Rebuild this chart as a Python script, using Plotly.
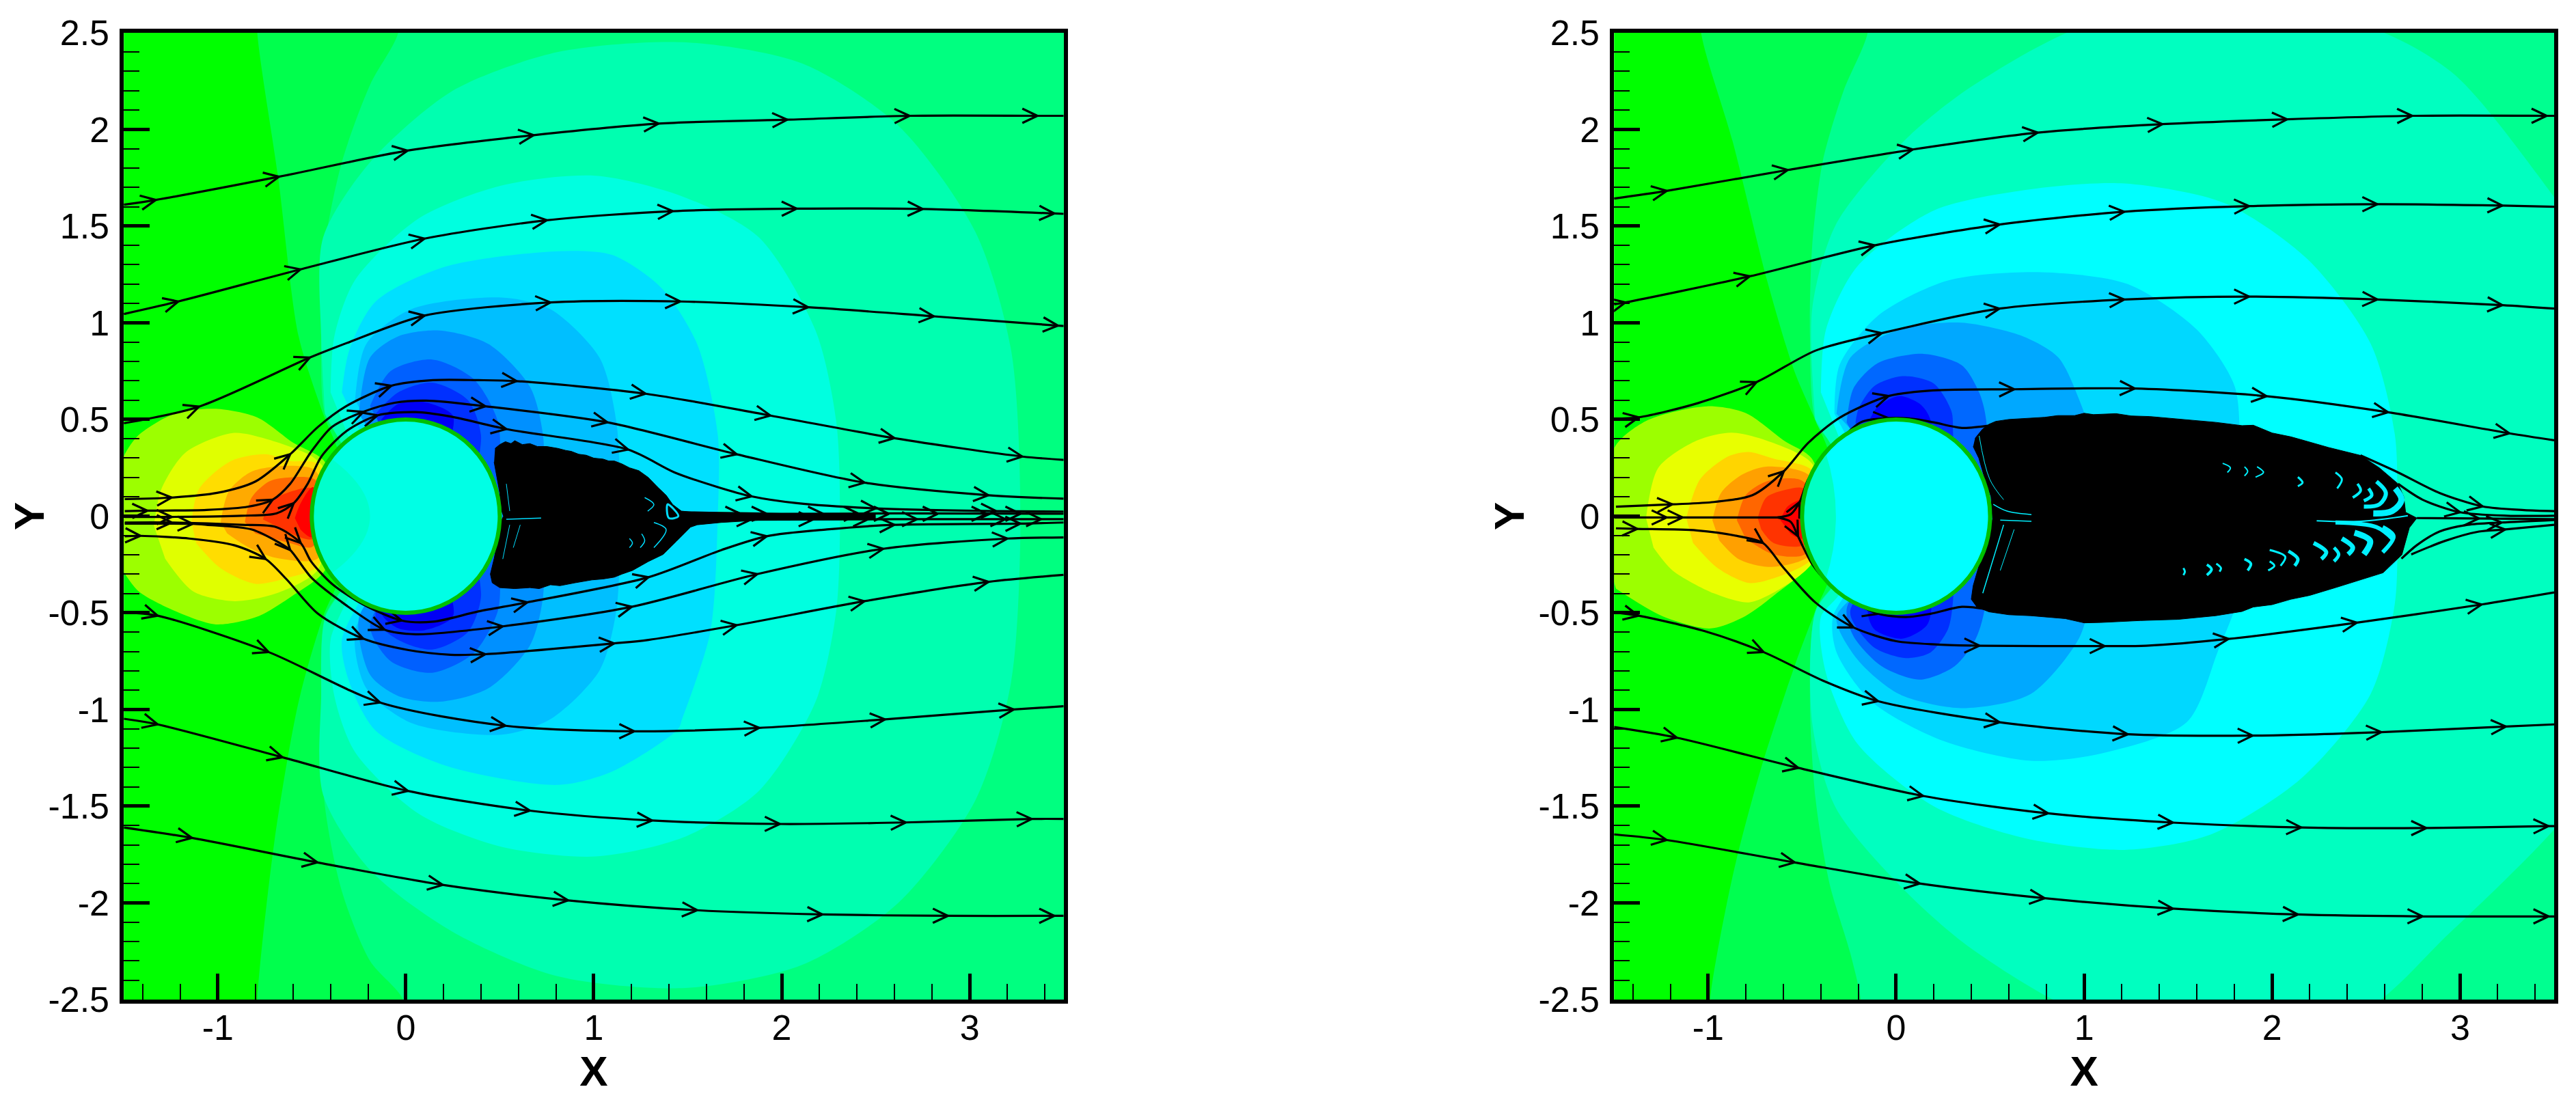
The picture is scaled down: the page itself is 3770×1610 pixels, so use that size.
"""Two cylinder-wake panels: filled contour bands, streamlines with open arrowheads."""
import plotly.graph_objects as go

W, H = 3770, 1610
PAGE_MARGIN = 8   # browser default body margin
L_DOMAIN = (181.2, 1556.7)
R_DOMAIN = (2362.2, 3738)
Y_DOMAIN = (47.8, 1463)

X_TICKS = [-1, 0, 1, 2, 3]
X_LABELS = ["-1", "0", "1", "2", "3"]
Y_TICKS = [-2.5, -2, -1.5, -1, -0.5, 0, 0.5, 1, 1.5, 2, 2.5]
Y_LABELS = ["-2.5", "-2", "-1.5", "-1", "-0.5", "0", "0.5", "1", "1.5", "2", "2.5"]
X_MINOR = [-1.4, -1.2, -0.8, -0.6, -0.4, -0.2, 0.2, 0.4, 0.6, 0.8, 1.2, 1.4, 1.6, 1.8,
           2.2, 2.4, 2.6, 2.8, 3.2, 3.4]
Y_MINOR = [-2.4, -2.3, -2.2, -2.1, -1.9, -1.8, -1.7, -1.6, -1.4, -1.3, -1.2, -1.1,
           -0.9, -0.8, -0.7, -0.6, -0.4, -0.3, -0.2, -0.1, 0.1, 0.2, 0.3, 0.4,
           0.6, 0.7, 0.8, 0.9, 1.1, 1.2, 1.3, 1.4, 1.6, 1.7, 1.8, 1.9, 2.1, 2.2, 2.3, 2.4]

# ---------- left panel: contour bands (painted in this order over plain green)
L_A = [(-0.79, 2.7), (-0.79, 2.5), (-0.68, 1.76), (-0.57, 0.93), (-0.44, 0.53), (-0.35, 0.3), (-0.35, -0.3),
       (-0.44, -0.52), (-0.57, -0.96), (-0.70, -1.69), (-0.79, -2.5), (-0.79, -2.7), (3.8, -2.7), (3.8, 2.7)]
L_B = [(-0.04, 2.7), (-0.04, 2.5), (-0.19, 2.23), (-0.34, 1.83), (-0.43, 1.40), (-0.45, 0.93), (-0.43, 0.53),
       (-0.3, 0.3), (-0.3, -0.3), (-0.43, -0.52), (-0.45, -0.96), (-0.43, -1.5), (-0.34, -1.94), (-0.19, -2.3),
       (-0.015, -2.5), (-0.015, -2.7), (3.8, -2.7), (3.8, 2.7)]
L_C = [(-0.43, 0.53), (-0.45, 0.93), (-0.44, 1.44), (-0.19, 1.83), (0.25, 2.2), (0.81, 2.40), (1.49, 2.45),
       (2.11, 2.34), (2.62, 2.02), (3.03, 1.47), (3.22, 0.86), (3.27, 0), (3.22, -0.86), (3.03, -1.47),
       (2.62, -2.0), (2.11, -2.32), (1.49, -2.44), (0.81, -2.38), (0.25, -2.15), (-0.19, -1.83), (-0.44, -1.44),
       (-0.45, -0.93), (-0.43, -0.53), (-0.3, -0.3), (-0.3, 0.3)]
L_D = [(-0.40, 0.64), (-0.38, 0.93), (-0.27, 1.22), (0.07, 1.54), (0.51, 1.71), (1.01, 1.76), (1.48, 1.65),
       (1.88, 1.44), (2.18, 0.96), (2.29, 0.49), (2.31, 0), (2.29, -0.49), (2.18, -0.96), (1.88, -1.42),
       (1.48, -1.66), (1.01, -1.76), (0.51, -1.71), (0.07, -1.54), (-0.27, -1.22), (-0.38, -0.93),
       (-0.40, -0.64), (-0.3, -0.4), (-0.2, 0), (-0.3, 0.4)]
L_E = [(-0.34, 0.64), (-0.30, 0.86), (-0.16, 1.11), (0.21, 1.29), (0.81, 1.37), (1.10, 1.35), (1.36, 1.18),
       (1.55, 0.89), (1.66, 0.42), (1.66, 0), (1.62, -0.6), (1.47, -1.05), (1.45, -1.1), (1.10, -1.32),
       (0.81, -1.39), (0.21, -1.29), (-0.16, -1.11), (-0.30, -0.86), (-0.34, -0.64), (-0.2, -0.35), (-0.1, 0),
       (-0.2, 0.35)]
L_F = [(-0.27, 0.60), (-0.21, 0.89), (0.03, 1.07), (0.51, 1.13), (0.77, 1.07), (1.03, 0.82), (1.12, 0.49),
       (1.14, 0), (1.12, -0.49), (1.03, -0.8), (0.77, -1.05), (0.51, -1.13), (0.03, -1.07), (-0.21, -0.89),
       (-0.27, -0.60), (-0.1, -0.3), (0, 0), (-0.1, 0.3)]
L_G = [(-0.25, 0.53), (-0.19, 0.82), (-0.04, 0.93), (0.18, 0.96), (0.44, 0.89), (0.66, 0.67), (0.73, 0.42),
       (0.73, 0), (0.73, -0.42), (0.66, -0.67), (0.44, -0.89), (0.18, -0.96), (-0.04, -0.93), (-0.19, -0.82),
       (-0.25, -0.53), (-0.1, -0.3), (0, 0), (-0.1, 0.3)]
L_H = [(-0.19, 0.57), (-0.08, 0.75), (0.14, 0.81), (0.36, 0.71), (0.49, 0.49), (0.5, 0.2), (0.5, -0.2),
       (0.49, -0.49), (0.36, -0.71), (0.14, -0.81), (-0.08, -0.75), (-0.19, -0.57), (-0.05, -0.3), (0, 0), (-0.05, 0.3)]
L_I = [(-0.16, 0.53), (-0.04, 0.64), (0.14, 0.69), (0.33, 0.60), (0.40, 0.42), (0.35, 0.1), (0.35, -0.1),
       (0.40, -0.42), (0.33, -0.60), (0.14, -0.69), (-0.04, -0.64), (-0.16, -0.53), (-0.05, -0.2), (-0.05, 0.2)]
L_J = [(-0.13, 0.5), (-0.04, 0.58), (0.1, 0.59), (0.25, 0.52), (0.22, 0.3), (0.22, -0.3), (0.25, -0.52),
       (0.1, -0.59), (-0.04, -0.58), (-0.13, -0.5), (-0.05, -0.2), (-0.05, 0.2)]
L_P1 = [(-1.6, 0), (-1.5, 0.31), (-1.42, 0.42), (-1.23, 0.53), (-1.01, 0.555), (-0.79, 0.51), (-0.6, 0.38),
        (-0.43, 0.28), (-0.38, 0), (-0.43, -0.28), (-0.6, -0.41), (-0.79, -0.52), (-1.01, -0.56), (-1.23, -0.49),
        (-1.42, -0.39), (-1.5, -0.29)]
L_P2 = [(-1.34, -0.05), (-1.30, 0.14), (-1.17, 0.33), (-0.92, 0.43), (-0.745, 0.40), (-0.50, 0.31), (-0.43, 0.24),
        (-0.4, 0), (-0.47, -0.28), (-0.69, -0.40), (-0.91, -0.44), (-1.13, -0.39), (-1.28, -0.22)]
L_P3 = [(-1.14, -0.03), (-1.10, 0.14), (-0.93, 0.285), (-0.745, 0.32), (-0.615, 0.285), (-0.47, 0.27), (-0.4, 0),
        (-0.47, -0.26), (-0.615, -0.316), (-0.80, -0.35), (-0.985, -0.27), (-1.115, -0.14)]
L_P4 = [(-0.985, -0.03), (-0.94, 0.13), (-0.82, 0.23), (-0.63, 0.26), (-0.485, 0.238), (-0.4, 0), (-0.47, -0.22),
        (-0.69, -0.216), (-0.84, -0.16), (-0.95, -0.09)]
L_P5 = [(-0.856, -0.03), (-0.82, 0.096), (-0.726, 0.18), (-0.615, 0.2), (-0.485, 0.19), (-0.4, 0), (-0.5, -0.16),
        (-0.615, -0.14), (-0.8, -0.09)]
L_P6 = [(-0.76, -0.017), (-0.71, 0.08), (-0.6, 0.13), (-0.5, 0.144), (-0.4, 0), (-0.5, -0.12), (-0.65, -0.07)]
L_P7 = [(-0.59, -0.01), (-0.56, 0.065), (-0.494, 0.15), (-0.4, 0), (-0.5, -0.11), (-0.56, -0.07)]
L_BANDS = [L_A, L_B, L_C, L_D, L_E, L_F, L_G, L_H, L_I, L_J, L_P1, L_P2, L_P3, L_P4, L_P5, L_P6, L_P7]
L_COLORS = ["#00FF4D", "#00FF80", "#00FFB0", "#00FFE0", "#00E0FF", "#00BFFF", "#0090FF", "#0060FF", "#0030FF",
            "#0000F5", "#9CFF00", "#E0FF00", "#FFDD00", "#FFAA00", "#FF6A00", "#FF3300", "#FF0000"]

# left panel: streamlines and the point indexes that carry an arrowhead
L_S1 = [(-1.5, 1.61), (-1.33, 1.635), (-0.675, 1.755), (0.01, 1.89), (0.68, 1.97), (1.345, 2.03), (2.03, 2.05),
        (2.68, 2.07), (3.36, 2.07), (3.5, 2.07)]
L_S2 = [(-1.5, 1.045), (-1.21, 1.11), (-0.56, 1.276), (0.10, 1.435), (0.75, 1.53), (1.42, 1.577), (2.08, 1.59),
        (2.75, 1.588), (3.45, 1.565), (3.5, 1.563)]
L_S3 = [(-1.5, 0.48), (-1.10, 0.566), (-0.51, 0.82), (-0.3, 0.90), (0.1, 1.037), (0.77, 1.105), (1.46, 1.11),
        (2.14, 1.08), (2.81, 1.033), (3.47, 0.985), (3.5, 0.983)]
L_S4 = [(-1.495, 0.088), (-1.245, 0.096), (-1.004, 0.12), (-0.8, 0.179), (-0.615, 0.32), (-0.466, 0.462),
        (-0.318, 0.568), (-0.077, 0.674), (0.145, 0.703), (0.386, 0.703), (0.59, 0.698), (1.276, 0.633),
        (1.94, 0.52), (2.6, 0.403), (3.28, 0.308), (3.5, 0.291)]
L_S5 = [(-1.495, 0.026), (-1.375, 0.028), (-1.06, 0.032), (-0.837, 0.049), (-0.708, 0.085), (-0.615, 0.167),
        (-0.504, 0.332), (-0.392, 0.462), (-0.226, 0.539), (-0.059, 0.586), (0.108, 0.597), (0.423, 0.568),
        (1.072, 0.485), (1.76, 0.32), (2.44, 0.173), (3.1, 0.108), (3.5, 0.09)]
L_S6 = [(-1.495, -0.004), (-1.245, -0.004), (-0.874, 0.002), (-0.689, 0.014), (-0.596, 0.067), (-0.522, 0.167),
        (-0.448, 0.309), (-0.318, 0.438), (-0.151, 0.521), (0.053, 0.538), (0.238, 0.515), (0.535, 0.45),
        (1.183, 0.344), (1.43, 0.226), (1.66, 0.15), (1.84, 0.102), (2.08, 0.067), (2.5, 0.04), (3.14, 0.026),
        (3.5, 0.023)]
L_S7 = [(-1.495, -0.033), (-1.245, -0.033), (-0.874, -0.045), (-0.689, -0.057), (-0.559, -0.139), (-0.504, -0.234),
        (-0.392, -0.351), (-0.226, -0.457), (-0.022, -0.54), (0.145, -0.546), (0.386, -0.493), (0.646, -0.446),
        (1.291, -0.316), (1.68, -0.175), (1.92, -0.104), (2.24, -0.069), (2.6, -0.045), (3.27, -0.039), (3.5, -0.033)]
L_S8 = [(-1.495, -0.039), (-1.134, -0.04), (-1.06, -0.045), (-0.819, -0.069), (-0.67, -0.139), (-0.615, -0.175),
        (-0.504, -0.316), (-0.355, -0.434), (-0.114, -0.587), (0.053, -0.611), (0.516, -0.57), (1.202, -0.469),
        (1.87, -0.30), (2.54, -0.169), (3.2, -0.116), (3.5, -0.11)]
L_S9 = [(-1.495, -0.104), (-1.412, -0.102), (-1.152, -0.116), (-0.911, -0.151), (-0.745, -0.222), (-0.633, -0.328),
        (-0.467, -0.505), (-0.226, -0.634), (0.015, -0.693), (0.238, -0.717), (0.423, -0.714), (1.109, -0.658),
        (1.291, -0.64), (1.76, -0.564), (2.44, -0.44), (3.1, -0.34), (3.5, -0.304)]
L_S10 = [(-1.5, -0.497), (-1.32, -0.515), (-0.73, -0.703), (-0.137, -0.964), (0.53, -1.084), (1.216, -1.113),
         (1.88, -1.095), (2.55, -1.051), (3.235, -1.0), (3.5, -0.983)]
L_S11 = [(-1.5, -1.048), (-1.32, -1.077), (-0.656, -1.247), (0.011, -1.421), (0.66, -1.523), (1.31, -1.574),
         (1.99, -1.592), (2.66, -1.584), (3.33, -1.566), (3.5, -1.566)]
L_S12 = [(-1.5, -1.61), (-1.138, -1.664), (-0.47, -1.791), (0.196, -1.907), (0.864, -1.987), (1.55, -2.038),
         (2.216, -2.06), (2.884, -2.067), (3.45, -2.067), (3.5, -2.067)]
L_T1 = [(1.46, 0.02), (2.0, 0.012), (2.6, 0.014), (3.5, 0.012)]
L_T2 = [(1.46, -0.02), (2.0, -0.018), (2.6, -0.016), (3.5, -0.016)]
L_LINES = [L_S1, L_S2, L_S3, L_S4, L_S5, L_S6, L_S7, L_S8, L_S9, L_S10, L_S11, L_S12, L_T1, L_T2]
L_TIPS = [[1, 2, 3, 4, 5, 6, 7, 8], [1, 2, 3, 4, 5, 6, 7, 8], [1, 2, 4, 5, 6, 7, 8, 9],
          [1, 4, 7, 10, 11, 12, 13, 14], [1, 4, 8, 11, 12, 13, 14, 15], [1, 4, 8, 11, 12, 15, 17, 18],
          [1, 4, 8, 11, 12, 14, 16, 17], [1, 5, 8, 10, 11, 12, 13, 14], [1, 4, 7, 10, 11, 13, 14, 15],
          [1, 2, 3, 4, 5, 6, 7, 8], [1, 2, 3, 4, 5, 6, 7, 8], [1, 2, 3, 4, 5, 6, 7, 8], [], []]
L_TAIL_TIP_X = [1.78, 1.84, 1.92, 2.17, 2.22, 2.41, 2.46, 2.57, 2.72, 2.83, 3.09, 3.19, 3.27, 3.38]
L_TAIL_TIP_Y = [0.012, -0.016, 0.012, -0.016, 0.012, 0.012, -0.016, 0.012, -0.016, 0.012, 0.012, -0.016, 0.012, -0.016]
L_THICK = [(1.46, -0.002), (1.9, -0.003), (2.5, -0.002)]

L_WAKE = [(0.475, 0.35), (0.5, 0.37), (0.53, 0.385), (0.56, 0.375), (0.58, 0.39), (0.62, 0.37), (0.66, 0.375),
          (0.7, 0.36), (0.75, 0.36), (0.81, 0.35), (0.85, 0.34), (0.88, 0.335), (0.92, 0.32), (0.96, 0.315),
          (1.0, 0.30), (1.05, 0.295), (1.08, 0.285), (1.11, 0.285), (1.15, 0.27), (1.19, 0.25), (1.24, 0.235),
          (1.29, 0.2), (1.34, 0.15), (1.385, 0.108), (1.42, 0.06), (1.466, 0.026), (1.55, 0.018), (1.677, 0.014),
          (1.9, 0.006), (1.9, -0.02), (1.677, -0.033), (1.55, -0.045), (1.515, -0.057), (1.44, -0.13),
          (1.369, -0.198), (1.29, -0.235), (1.206, -0.281), (1.15, -0.30), (1.109, -0.316), (1.05, -0.325),
          (0.99, -0.33), (0.9, -0.345), (0.82, -0.36), (0.77, -0.355), (0.71, -0.375), (0.66, -0.37), (0.58, -0.375),
          (0.5, -0.37), (0.46, -0.345), (0.45, -0.30), (0.47, -0.22), (0.49, -0.12), (0.505, -0.03), (0.52, 0),
          (0.505, 0.04), (0.5, 0.12), (0.485, 0.2), (0.47, 0.28)]
L_GAPS = [[(0.535, -0.016), (0.72, -0.01)], [(0.553, -0.045), (0.516, -0.222)], [(0.609, -0.045), (0.572, -0.163)],
          [(0.535, 0.167), (0.553, 0.026)], [(1.271, 0.096), (1.32, 0.06), (1.287, 0.026)],
          [(1.255, -0.092), (1.271, -0.128), (1.247, -0.163)], [(1.19, -0.116), (1.206, -0.139), (1.19, -0.163)],
          [(1.32, -0.033), (1.385, -0.069), (1.32, -0.163)], [(1.4, -0.01), (1.45, 0), (1.393, 0.061), (1.4, -0.01)]]
L_GAP_WIDTHS = [1.5, 1, 1, 1, 1.5, 1.5, 1.5, 1.5, 3]
L_GAP_COLOR = "#00DDFF"

# ---------- right panel
R_A = [(-1.037, 2.7), (-1.037, 2.5), (-0.87, 1.94), (-0.686, 1.218), (-0.54, 0.747), (-0.428, 0.493), (-0.35, 0.3),
       (-0.35, -0.3), (-0.428, -0.486), (-0.54, -0.776), (-0.723, -1.32), (-0.87, -1.864), (-0.989, -2.5),
       (-0.989, -2.7), (3.8, -2.7), (3.8, 2.7)]
R_B = [(-0.151, 2.7), (-0.151, 2.5), (-0.28, 2.197), (-0.39, 1.835), (-0.446, 1.40), (-0.458, 0.928), (-0.428, 0.493),
       (-0.3, 0.3), (-0.3, -0.3), (-0.428, -0.486), (-0.458, -0.957), (-0.428, -1.465), (-0.354, -1.9),
       (-0.243, -2.262), (-0.188, -2.5), (-0.188, -2.7), (3.8, -2.7), (3.8, 2.7)]
R_C = [(-0.43, 0.5), (-0.446, 1.073), (-0.32, 1.508), (0.05, 1.947), (0.42, 2.233), (1.085, 2.56), (2.41, 2.56),
       (2.95, 2.3), (3.5, 1.65), (3.75, 1.3), (3.75, -1.3), (3.5, -1.62), (2.95, -2.15), (2.41, -2.6), (1.085, -2.6),
       (0.42, -2.25), (0.05, -1.94), (-0.32, -1.51), (-0.446, -1.07), (-0.43, -0.5), (-0.3, -0.3), (-0.3, 0.3)]
R_D = [(-0.40, 0.64), (-0.373, 0.964), (-0.207, 1.29), (0.2, 1.58), (0.716, 1.69), (1.214, 1.72), (1.75, 1.617),
       (2.19, 1.327), (2.524, 0.892), (2.653, 0.42), (2.665, 0), (2.653, -0.45), (2.524, -0.92), (2.155, -1.356),
       (1.675, -1.646), (1.214, -1.726), (0.68, -1.664), (0.2, -1.5), (-0.207, -1.175), (-0.373, -0.812),
       (-0.40, -0.522), (-0.3, -0.4), (-0.2, 0), (-0.3, 0.4)]
R_E = [(-0.328, 0.53), (-0.3, 0.783), (-0.096, 1.037), (0.273, 1.218), (0.753, 1.262), (1.232, 1.2), (1.60, 0.964),
       (1.80, 0.674), (1.83, 0.348), (1.83, -0.377), (1.71, -0.703), (1.546, -1.066), (1.085, -1.229), (0.716, -1.265),
       (0.236, -1.157), (-0.133, -0.957), (-0.317, -0.703), (-0.336, -0.522), (-0.2, -0.3), (-0.1, 0), (-0.2, 0.3)]
R_F = [(-0.317, 0.53), (-0.243, 0.82), (0.015, 0.964), (0.347, 1.0), (0.679, 0.928), (0.863, 0.82), (0.974, 0.602),
       (1.03, 0.42), (1.03, -0.413), (0.974, -0.63), (0.716, -0.92), (0.347, -0.993), (0.015, -0.92), (-0.207, -0.74),
       (-0.317, -0.522), (-0.1, -0.3), (0, 0), (-0.1, 0.3)]
R_H = [(-0.263, 0.485), (-0.226, 0.662), (-0.096, 0.792), (0.145, 0.839), (0.35, 0.78), (0.442, 0.639), (0.479, 0.497),
       (0.479, -0.434), (0.424, -0.634), (0.312, -0.776), (0.127, -0.846), (-0.077, -0.776), (-0.226, -0.622),
       (-0.263, -0.481), (-0.1, -0.2), (-0.1, 0.2)]
R_I = [(-0.216, 0.485), (-0.198, 0.56), (-0.114, 0.674), (0.034, 0.724), (0.2, 0.686), (0.294, 0.544), (0.303, 0.427),
       (0.303, -0.434), (0.275, -0.587), (0.183, -0.705), (0.053, -0.734), (-0.114, -0.681), (-0.226, -0.552),
       (-0.244, -0.493), (-0.1, -0.2), (-0.1, 0.2)]
R_J = [(-0.142, 0.497), (-0.096, 0.568), (0.016, 0.621), (0.127, 0.58), (0.183, 0.497), (0.192, -0.434),
       (0.164, -0.564), (0.034, -0.634), (-0.114, -0.587), (-0.151, -0.493), (-0.05, -0.2), (-0.05, 0.2)]
R_P1 = [(-1.6, 0), (-1.49, 0.367), (-1.32, 0.497), (-1.005, 0.568), (-0.8, 0.533), (-0.597, 0.391), (-0.448, 0.297),
        (-0.38, 0), (-0.467, -0.257), (-0.634, -0.398), (-0.8, -0.516), (-0.986, -0.581), (-1.246, -0.516), (-1.49, -0.375)]
R_P2 = [(-1.33, -0.01), (-1.265, 0.25), (-1.06, 0.391), (-0.875, 0.432), (-0.69, 0.391), (-0.448, 0.273), (-0.38, 0),
        (-0.448, -0.245), (-0.615, -0.375), (-0.782, -0.446), (-0.968, -0.4), (-1.19, -0.28), (-1.29, -0.163)]
R_P3 = [(-1.116, -0.01), (-1.042, 0.191), (-0.893, 0.309), (-0.782, 0.332), (-0.652, 0.297), (-0.448, 0.238), (-0.38, 0),
        (-0.448, -0.222), (-0.634, -0.316), (-0.782, -0.346), (-0.949, -0.269), (-1.08, -0.139)]
R_P4 = [(-0.977, -0.021), (-0.931, 0.12), (-0.82, 0.214), (-0.69, 0.256), (-0.467, 0.214), (-0.38, 0), (-0.467, -0.21),
        (-0.671, -0.263), (-0.838, -0.222), (-0.94, -0.127)]
R_P5 = [(-0.847, -0.021), (-0.8, 0.108), (-0.69, 0.179), (-0.504, 0.185), (-0.38, 0), (-0.485, -0.198), (-0.652, -0.198),
        (-0.8, -0.116)]
R_P6 = [(-0.736, -0.01), (-0.69, 0.097), (-0.578, 0.138), (-0.495, 0.144), (-0.38, 0), (-0.495, -0.151), (-0.652, -0.139),
        (-0.717, -0.069)]
R_P7 = [(-0.615, -0.021), (-0.578, 0.049), (-0.495, 0.085), (-0.38, 0), (-0.495, -0.116), (-0.56, -0.092)]
R_BANDS = [R_A, R_B, R_C, R_D, R_E, R_F, R_H, R_I, R_J, R_P1, R_P2, R_P3, R_P4, R_P5, R_P6, R_P7]
R_COLORS = ["#00FF50", "#00FF90", "#00FFC0", "#00FFFF", "#00D8FF", "#00A8FF", "#0068FF", "#0030FF", "#0000FF",
            "#9CFF00", "#E8FF00", "#FFD500", "#FFA000", "#FF6600", "#FF3300", "#FF0000"]

R_S1 = [(-1.5, 1.642), (-1.22, 1.682), (-0.576, 1.79), (0.089, 1.896), (0.753, 1.983), (1.417, 2.027), (2.08, 2.052),
        (2.745, 2.07), (3.46, 2.07), (3.5, 2.07)]
R_S2 = [(-1.5, 1.095), (-1.44, 1.105), (-0.779, 1.24), (-0.114, 1.4), (0.55, 1.508), (1.214, 1.574), (1.878, 1.603),
        (2.56, 1.613), (3.225, 1.606), (3.5, 1.6)]
R_S3 = [(-1.5, 0.504), (-1.369, 0.511), (-1.055, 0.584), (-0.742, 0.693), (-0.428, 0.856), (-0.077, 0.946), (0.55, 1.073),
        (1.214, 1.12), (1.878, 1.135), (2.56, 1.12), (3.225, 1.091), (3.5, 1.073)]
R_S4 = [(-1.49, 0.049), (-1.19, 0.061), (-0.968, 0.073), (-0.764, 0.108), (-0.597, 0.232), (-0.467, 0.379), (-0.3, 0.509),
        (-0.04, 0.621), (0.2, 0.65), (0.628, 0.656), (1.27, 0.66), (1.97, 0.62), (2.616, 0.537), (3.262, 0.428), (3.5, 0.392)]
R_S5 = [(-1.5, -0.007), (-1.22, -0.007), (-1.135, -0.007), (-0.615, -0.007)]
R_S5U = [(-0.63, -0.007), (-0.56, 0.01), (-0.513, 0.073), (-0.467, 0.191), (-0.356, 0.332), (-0.188, 0.485), (-0.04, 0.507),
         (0.09, 0.503), (0.2, 0.485), (0.35, 0.456), (0.498, 0.468)]
R_S5D = [(-0.63, -0.007), (-0.56, -0.03), (-0.522, -0.104), (-0.448, -0.245), (-0.356, -0.351), (-0.244, -0.434),
         (-0.096, -0.505), (0.053, -0.522), (0.183, -0.505), (0.35, -0.469), (0.48, -0.481)]
R_S6 = [(-1.49, -0.063), (-1.376, -0.066), (-1.06, -0.074), (-0.838, -0.104), (-0.708, -0.139), (-0.597, -0.269), (-0.43, -0.446),
        (-0.226, -0.576), (-0.003, -0.646), (0.22, -0.664), (0.443, -0.67), (1.11, -0.672), (1.33, -0.67), (1.768, -0.635),
        (2.45, -0.551), (3.114, -0.457), (3.5, -0.395)]
R_S7 = [(-1.5, -0.497), (-1.37, -0.515), (-1.018, -0.595), (-0.705, -0.703), (-0.391, -0.85), (-0.096, -0.957), (0.55, -1.066),
        (1.232, -1.128), (1.897, -1.135), (2.58, -1.117), (3.244, -1.088), (3.5, -1.077)]
R_S8 = [(-1.5, -1.091), (-1.166, -1.146), (-0.52, -1.302), (0.144, -1.447), (0.808, -1.537), (1.472, -1.585), (2.155, -1.61),
        (2.82, -1.613), (3.47, -1.603), (3.5, -1.603)]
R_S9 = [(-1.5, -1.646), (-1.22, -1.675), (-0.539, -1.791), (0.125, -1.9), (0.79, -1.976), (1.472, -2.03), (2.137, -2.06),
        (2.8, -2.07), (3.47, -2.07), (3.5, -2.07)]
R_T1 = [(2.47, 0.314), (2.67, 0.226), (2.89, 0.12), (3.12, 0.05), (3.34, 0.031), (3.5, 0.026)]
R_T2 = [(2.67, 0.167), (2.8, 0.085), (3.0, 0.02), (3.25, 0.002), (3.5, 0.002)]
R_T3 = [(2.77, -0.01), (3.1, -0.012), (3.5, -0.016)]
R_T4 = [(2.688, -0.22), (2.77, -0.15), (2.89, -0.08), (3.04, -0.045), (3.22, -0.033), (3.5, -0.02)]
R_T5 = [(2.74, -0.198), (2.92, -0.128), (3.1, -0.08), (3.24, -0.069), (3.5, -0.045)]
R_LINES = [R_S1, R_S2, R_S3, R_S4, R_S5, R_S5U, R_S5D, R_S6, R_S7, R_S8, R_S9, R_T1, R_T2, R_T3, R_T4, R_T5]
R_TIPS = [[1, 2, 3, 4, 5, 6, 7, 8], [1, 2, 3, 4, 5, 6, 7, 8], [1, 3, 5, 6, 7, 8, 9, 10],
          [1, 4, 7, 9, 10, 11, 12, 13], [1, 2], [2, 6], [2, 6], [1, 4, 7, 10, 11, 13, 14, 15],
          [1, 3, 5, 6, 7, 8, 9, 10], [1, 2, 3, 4, 5, 6, 7, 8], [1, 2, 3, 4, 5, 6, 7, 8], [3], [2], [1], [4], [3]]

R_WAKE = [(0.42, 0.402), (0.46, 0.45), (0.494, 0.475), (0.53, 0.49), (0.6, 0.5), (0.7, 0.505), (0.79, 0.511), (0.86, 0.52),
          (0.95, 0.52), (1.0, 0.532), (1.05, 0.525), (1.17, 0.53), (1.25, 0.518), (1.35, 0.515), (1.5, 0.503), (1.6, 0.495),
          (1.7, 0.485), (1.84, 0.468), (1.9, 0.47), (2.0, 0.43), (2.1, 0.41), (2.17, 0.391), (2.3, 0.355), (2.47, 0.314),
          (2.57, 0.25), (2.67, 0.167), (2.7, 0.1), (2.71, 0.02), (2.77, -0.01), (2.73, -0.06), (2.69, -0.2), (2.59, -0.293),
          (2.47, -0.33), (2.34, -0.369), (2.2, -0.41), (2.1, -0.43), (2.0, -0.458), (1.9, -0.47), (1.84, -0.493), (1.7, -0.515),
          (1.5, -0.534), (1.3, -0.54), (1.09, -0.55), (1.0, -0.552), (0.9, -0.53), (0.716, -0.515), (0.6, -0.51), (0.494, -0.495),
          (0.43, -0.47), (0.4, -0.43), (0.41, -0.36), (0.44, -0.26), (0.49, -0.13), (0.513, -0.015), (0.505, 0.1), (0.47, 0.2),
          (0.44, 0.3), (0.41, 0.36)]
R_GAPS = [[(2.555, 0.179), (2.605, 0.12), (2.571, 0.061), (2.488, 0.049)],
          [(2.655, 0.143), (2.688, 0.084), (2.638, 0.026), (2.538, 0.014)],
          [(2.513, 0.143), (2.53, 0.108), (2.488, 0.079)], [(2.454, 0.167), (2.471, 0.132), (2.429, 0.096)],
          [(2.337, 0.226), (2.371, 0.191), (2.346, 0.143)], [(2.137, 0.202), (2.162, 0.173), (2.137, 0.155)],
          [(1.737, 0.273), (1.778, 0.25), (1.762, 0.226)], [(1.853, 0.255), (1.87, 0.232), (1.853, 0.208)],
          [(1.92, 0.255), (1.954, 0.226), (1.912, 0.202)],
          [(2.337, -0.033), (2.555, -0.057), (2.638, -0.116)], [(2.438, -0.086), (2.521, -0.128), (2.488, -0.198)],
          [(2.371, -0.116), (2.429, -0.163), (2.404, -0.198)], [(2.221, -0.139), (2.288, -0.187), (2.262, -0.222)],
          [(2.087, -0.181), (2.137, -0.222), (2.12, -0.257)], [(2.329, -0.163), (2.354, -0.198), (2.329, -0.234)],
          [(1.987, -0.175), (2.07, -0.21), (2.045, -0.257)], [(1.853, -0.222), (1.887, -0.246), (1.87, -0.281)],
          [(1.987, -0.234), (2.012, -0.257), (1.979, -0.281)], [(1.653, -0.251), (1.678, -0.275), (1.653, -0.305)],
          [(1.528, -0.269), (1.536, -0.287), (1.528, -0.305)], [(2.588, -0.057), (2.646, -0.104), (2.588, -0.187)],
          [(1.703, -0.246), (1.728, -0.269), (1.72, -0.287)], [(2.237, -0.024), (2.471, -0.027), (2.722, 0.002)],
          [(0.517, 0.061), (0.59, 0.026), (0.72, 0.008)], [(0.442, 0.415), (0.498, 0.191), (0.572, 0.085)],
          [(0.554, -0.021), (0.72, -0.027)], [(0.572, -0.045), (0.498, -0.281), (0.461, -0.399)],
          [(0.628, -0.069), (0.554, -0.281)]]
R_GAP_WIDTHS = [6, 9, 5, 4, 3, 3, 2, 2, 2, 6, 9, 7, 6, 5, 5, 3, 4, 3, 4, 3, 6, 3, 2, 1.5, 1, 1.5, 1.5, 1]
R_GAP_COLOR = "#00F0FF"

L_INNER, L_LENS = "#00FFE5", "#00FFCC"
R_INNER, R_LENS = "#00FFFF", "#00FFC4"
L_LENS_PATH = "M -0.40 0.30 Q 0.02 0 -0.40 -0.30 C -0.53 -0.1 -0.53 0.1 -0.40 0.30 Z"
R_LENS_PATH = "M -0.375 0.33 Q -0.265 0 -0.375 -0.33 C -0.53 -0.12 -0.53 0.12 -0.375 0.33 Z"
RING_COLOR = "#00C000"

FIG_W, FIG_H = W - 2 * PAGE_MARGIN, H - 2 * PAGE_MARGIN


def xs(pts):
    return [p[0] for p in pts]


def ys(pts):
    return [p[1] for p in pts]


def chevrons(tips, px_x, px_y, back=22.0, half=10.5):
    """Open arrowheads: tips = [(x, y, dx, dy)], size given in screen pixels."""
    ax, ay = [], []
    for x, y, dx, dy in tips:
        ux, uy = dx * px_x, dy * px_y
        n = (ux * ux + uy * uy) ** 0.5 or 1.0
        ux, uy = ux / n, uy / n
        for s in (1, -1):
            bx = -back * ux + s * half * (-uy)
            by = -back * uy + s * half * ux
            ax += [x + bx / px_x, x, None]
            ay += [y + by / px_y, y, None]
    return ax, ay


def add_panel(fig, xa, ya, dom, bands, colors, lines, tips, wake, gaps, gap_widths, gap_color,
              extra_tips=(), thick=()):
    px_x = (dom[1] - dom[0]) / 5.0
    px_y = (Y_DOMAIN[1] - Y_DOMAIN[0]) / 5.0
    for pts, col in zip(bands, colors):
        fig.add_trace(go.Scatter(x=xs(pts), y=ys(pts), xaxis=xa, yaxis=ya, mode="lines", fill="toself",
                                 fillcolor=col, line=dict(width=0, shape="spline", smoothing=0.8),
                                 hoverinfo="skip", showlegend=False))
    fig.add_trace(go.Scatter(x=xs(wake), y=ys(wake), xaxis=xa, yaxis=ya, mode="lines", fill="toself",
                             fillcolor="black", line=dict(width=1, color="black"), hoverinfo="skip", showlegend=False))
    for pts, w in zip(gaps, gap_widths):
        fig.add_trace(go.Scatter(x=xs(pts), y=ys(pts), xaxis=xa, yaxis=ya, mode="lines",
                                 line=dict(width=w, color=gap_color, shape="spline"),
                                 hoverinfo="skip", showlegend=False))
    arrow_tips = list(extra_tips)
    for pts, idx in zip(lines, tips):
        fig.add_trace(go.Scatter(x=xs(pts), y=ys(pts), xaxis=xa, yaxis=ya, mode="lines",
                                 line=dict(width=3.2, color="black", shape="spline", smoothing=0.8),
                                 hoverinfo="skip", showlegend=False))
        for i in idx:
            p0, p1 = pts[max(i - 1, 0)], pts[min(i + 1, len(pts) - 1)]
            arrow_tips.append((pts[i][0], pts[i][1], p1[0] - p0[0], p1[1] - p0[1]))
    if thick:
        fig.add_trace(go.Scatter(x=xs(thick), y=ys(thick), xaxis=xa, yaxis=ya, mode="lines",
                                 line=dict(width=8, color="black"), hoverinfo="skip", showlegend=False))
    ax, ay = chevrons(arrow_tips, px_x, px_y)
    fig.add_trace(go.Scatter(x=ax, y=ay, xaxis=xa, yaxis=ya, mode="lines",
                             line=dict(width=3.2, color="black"), hoverinfo="skip", showlegend=False))


fig = go.Figure()
add_panel(fig, "x", "y", L_DOMAIN, L_BANDS, L_COLORS, L_LINES, L_TIPS, L_WAKE, L_GAPS, L_GAP_WIDTHS, L_GAP_COLOR,
          extra_tips=[(x, y, 1, 0) for x, y in zip(L_TAIL_TIP_X, L_TAIL_TIP_Y)], thick=L_THICK)
add_panel(fig, "x2", "y2", R_DOMAIN, R_BANDS, R_COLORS, R_LINES, R_TIPS, R_WAKE, R_GAPS, R_GAP_WIDTHS, R_GAP_COLOR)

shapes = []
for xr, yr, inner, lens, path in (("x", "y", L_INNER, L_LENS, L_LENS_PATH), ("x2", "y2", R_INNER, R_LENS, R_LENS_PATH)):
    shapes.append(dict(type="circle", xref=xr, yref=yr, x0=-0.5, x1=0.5, y0=-0.5, y1=0.5, layer="above",
                       fillcolor=inner, line=dict(width=0)))
    shapes.append(dict(type="path", xref=xr, yref=yr, path=path, layer="above", fillcolor=lens, line=dict(width=0)))
    shapes.append(dict(type="circle", xref=xr, yref=yr, x0=-0.5, x1=0.5, y0=-0.5, y1=0.5, layer="above",
                       fillcolor="rgba(0,0,0,0)", line=dict(width=6, color=RING_COLOR)))

tick_font = dict(family="Liberation Sans, Arial, sans-serif", size=52, color="black")
title_font = dict(family="Liberation Sans, Arial, sans-serif", size=62, color="black", weight="bold")


def x_axis(dom, anchor):
    return dict(domain=[(dom[0] - PAGE_MARGIN) / FIG_W, (dom[1] - PAGE_MARGIN) / FIG_W], anchor=anchor,
                range=[-1.5, 3.5], showgrid=False, zeroline=False,
                automargin=False, showline=True, mirror=True, linecolor="black", linewidth=5.5,
                tickmode="array", tickvals=X_TICKS, ticktext=X_LABELS, ticks="inside", ticklen=38, tickwidth=5,
                tickcolor="black", tickfont=tick_font, ticklabelstandoff=-9,
                minor=dict(tickmode="array", tickvals=X_MINOR, ticks="inside", ticklen=23, tickwidth=2, tickcolor="black"),
                title=dict(text="X", font=title_font, standoff=11))


def y_axis(anchor):
    return dict(domain=[1 - (Y_DOMAIN[1] - PAGE_MARGIN) / FIG_H, 1 - (Y_DOMAIN[0] - PAGE_MARGIN) / FIG_H], anchor=anchor,
                range=[-2.5, 2.5], showgrid=False,
                automargin=False, zeroline=False, showline=True, mirror=True, linecolor="black", linewidth=5.5,
                tickmode="array", tickvals=Y_TICKS, ticktext=Y_LABELS, ticks="inside", ticklen=38, tickwidth=5,
                tickcolor="black", tickfont=tick_font, ticklabelstandoff=5,
                minor=dict(tickmode="array", tickvals=Y_MINOR, ticks="inside", ticklen=23, tickwidth=2, tickcolor="black"),
                title=dict(text="Y", font=title_font, standoff=3))


fig.update_layout(width=FIG_W, height=FIG_H, margin=dict(l=0, r=0, t=0, b=0, autoexpand=False), paper_bgcolor="white",
                  plot_bgcolor="#00FF00", showlegend=False, shapes=shapes,
                  xaxis=x_axis(L_DOMAIN, "y"), yaxis=y_axis("x"),
                  xaxis2=x_axis(R_DOMAIN, "y2"), yaxis2=y_axis("x2"))
fig.write_html("out.html")
